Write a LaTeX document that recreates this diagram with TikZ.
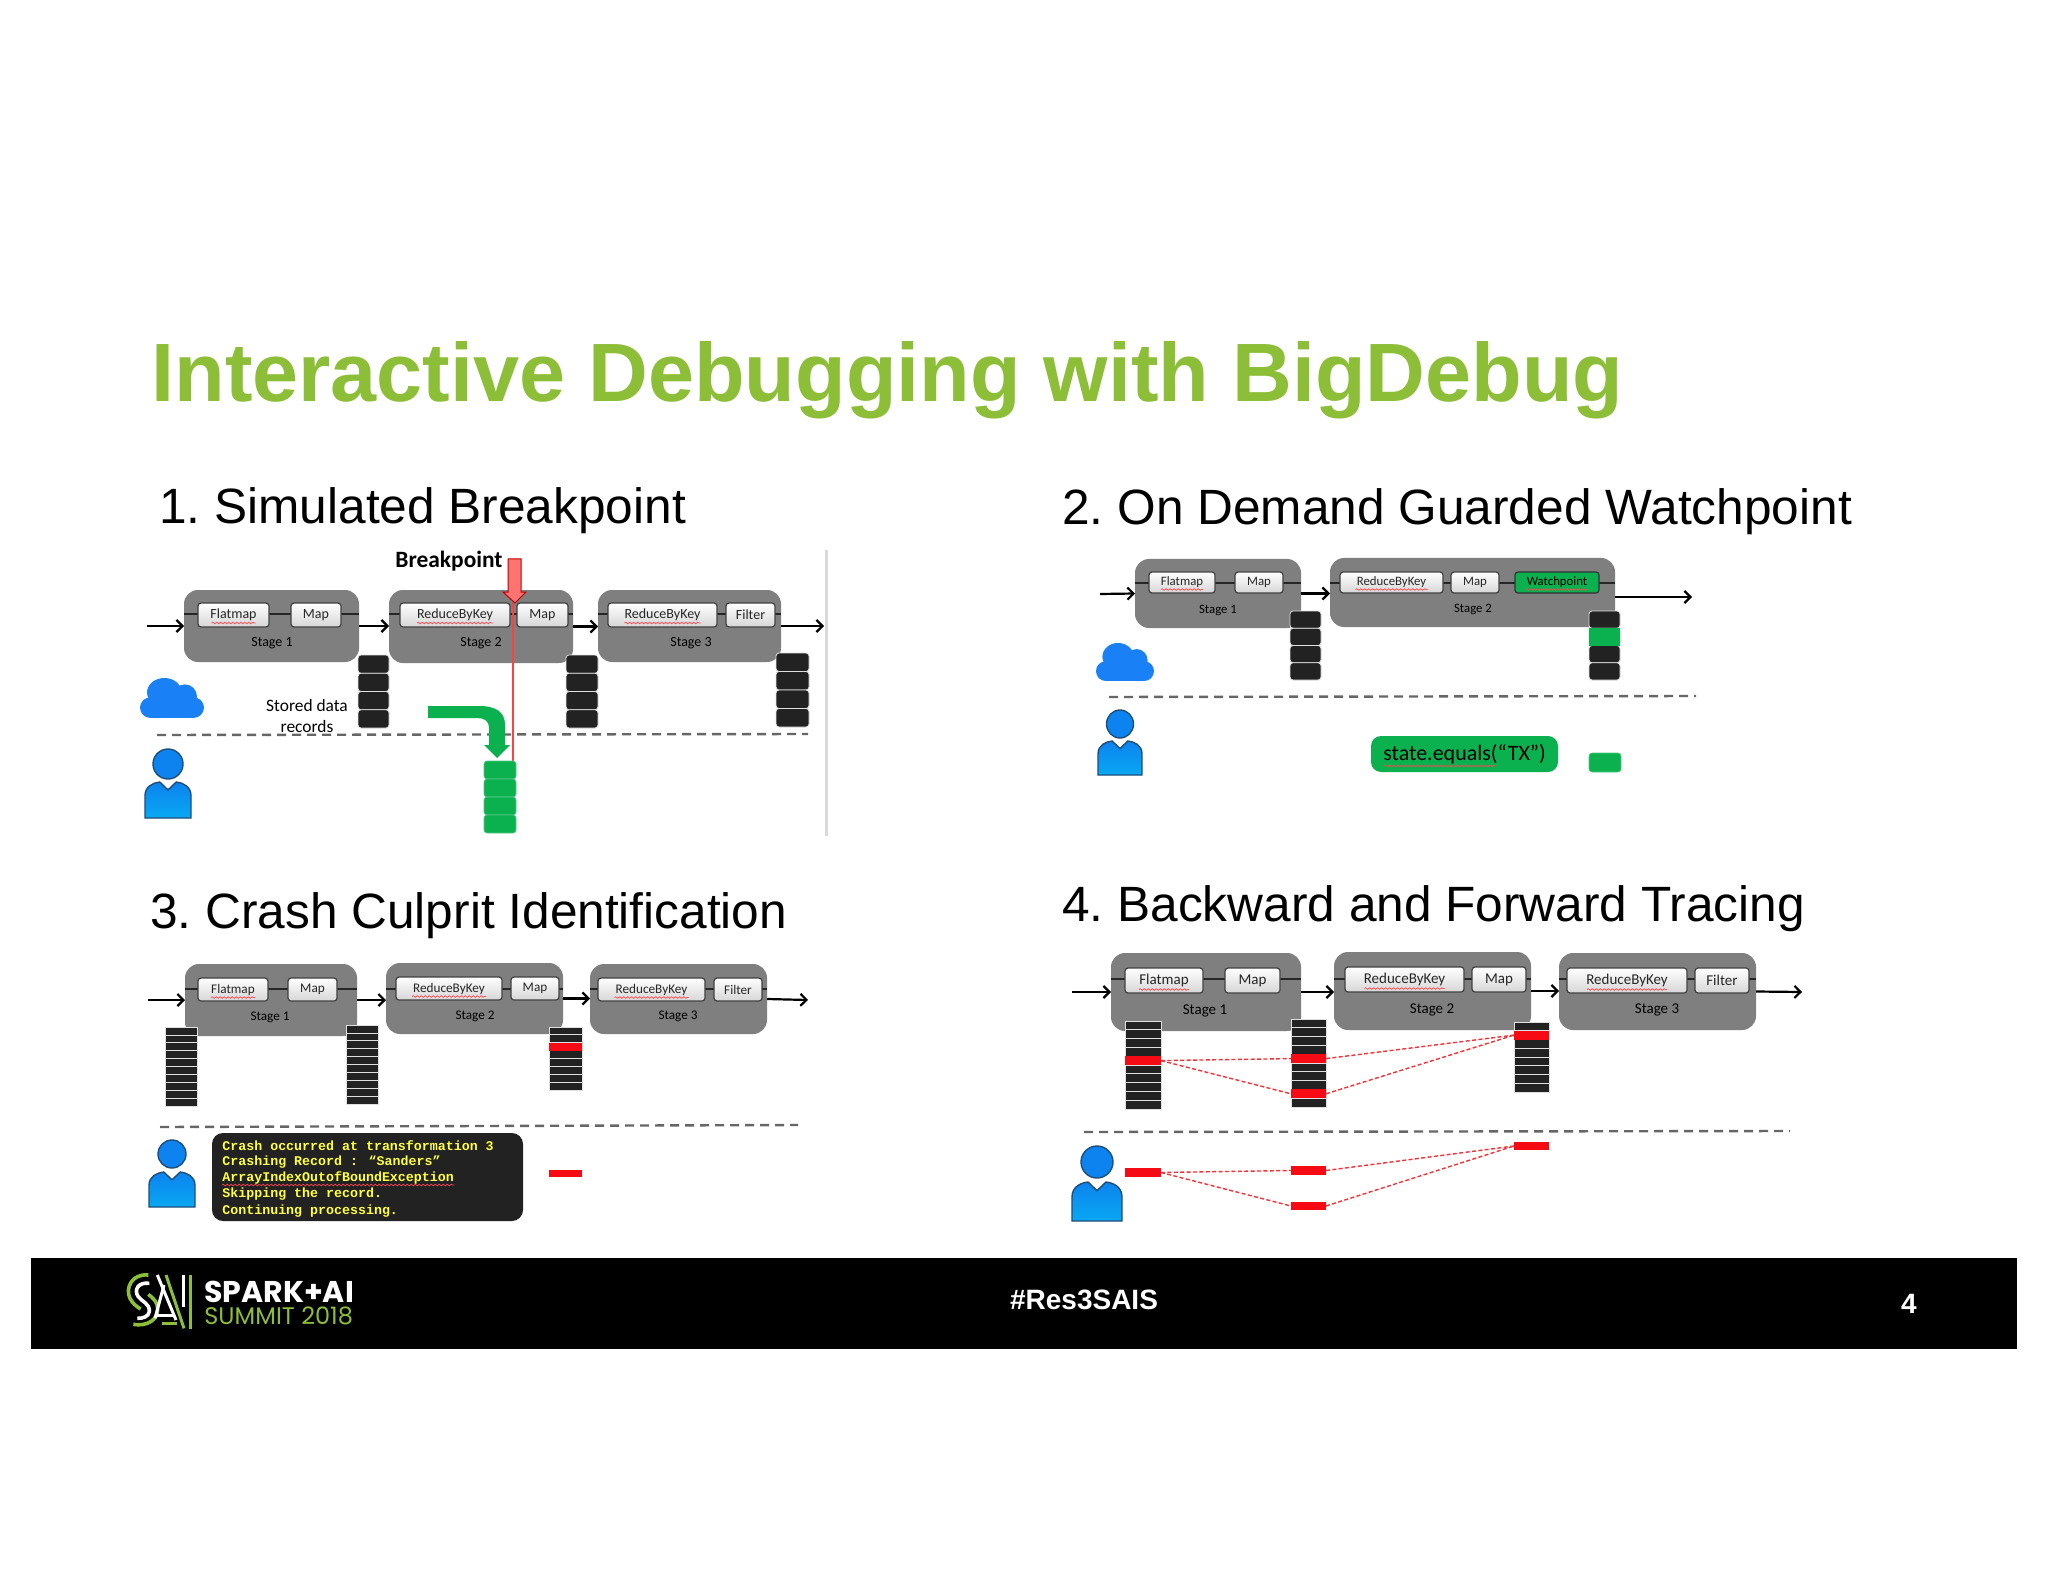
\documentclass[tikz,border=0pt]{standalone}
\usepackage{fontspec}
\usepackage{graphicx}
\setmainfont{Liberation Sans}
\newfontfamily\car{Carlito}
\newfontfamily\mono{Liberation Mono}
\newfontfamily\pop{Poppins}
\usetikzlibrary{arrows.meta,calc,decorations.pathmorphing,shapes.geometric}
\definecolor{sparkgreen}{HTML}{8DBE38}
\definecolor{stagegrey}{HTML}{7F7F7F}
\definecolor{recdark}{HTML}{222222}
\definecolor{recgreen}{HTML}{0BB04F}
\definecolor{markred}{HTML}{F60A14}
\definecolor{pblue}{HTML}{0C83EE}
\definecolor{cloudblue}{HTML}{1A80F5}
\definecolor{pedge}{HTML}{1F4E79}
\definecolor{conyellow}{HTML}{FFFF3C}
\tikzset{
  pagebg/.style={fill=white},
  titletext/.style={anchor=base west,inner sep=0pt,text=sparkgreen,font=\fontsize{41.4}{48}\selectfont\bfseries},
  headtext/.style={anchor=base west,inner sep=0pt,text=black,font=\frenchspacing\fontsize{24.8}{30}\selectfont},
  stagebox/.style={fill=stagegrey,rounded corners=7pt,inner sep=0pt,outer sep=0pt,text=black},
  opbox/.style={draw=black!75,line width=.6pt,top color=white,bottom color=black!16,rounded corners=1.5pt,inner sep=0pt,outer sep=0pt,text=black!85},
  watchbox/.style={draw=black!80,line width=.6pt,fill=recgreen,rounded corners=1.5pt,inner sep=0pt,outer sep=0pt,text=black},
  recr/.style={fill=recdark,draw=black!12,line width=.4pt,rounded corners=1.5pt,inner sep=0pt,outer sep=0pt},
  recs/.style={fill=recdark,draw=black!12,line width=.4pt,inner sep=0pt,outer sep=0pt},
  recg/.style={fill=recgreen,draw=recgreen!70!white,line width=.3pt,rounded corners=1.5pt,inner sep=0pt,outer sep=0pt},
  redbar/.style={fill=markred,inner sep=0pt,outer sep=0pt},
  wire/.style={draw=black!85,line width=.7pt},
  flow/.style={draw=black,line width=1.1pt,-{Straight Barb[length=3pt,width=6pt,line width=1.1pt]}},
  sep/.style={draw=black!60,line width=1.2pt,dash pattern=on 4.5pt off 3pt},
  trace/.style={draw=markred!85,line width=.7pt,dash pattern=on 2pt off 1.2pt},
  squig/.style={draw=markred!75,line width=.35pt,decorate,decoration={snake,segment length=2pt,amplitude=.4pt}},
  lbl/.style={inner sep=0pt,text=black},
  headshape/.style={draw=pedge,line width=.7pt,fill=pblue},
  bodyshape/.style={draw=pedge,line width=.7pt,top color=pblue,bottom color=pblue!70!cyan},
  logog/.style={draw=sparkgreen,line width=1.5pt},
  logow/.style={draw=white,line width=1.5pt},
}
\newcommand\bx[7][]{%
  \pgfmathsetmacro\cxv{(#3+#5)/2}%
  \pgfmathsetmacro\cyv{(#4+#6)/2}%
  \node[#1,minimum width={(#5-#3)*0.5pt},minimum height={(#6-#4)*0.5pt}] (#2) at (\cxv,\cyv) {#7};}
\newcommand\stack[7]{%
  \foreach \i in {1,...,#7}{%
    \pgfmathsetmacro\ya{#5+(\i-1)*(#6-#5)/#7}%
    \pgfmathsetmacro\yb{#5+\i*(#6-#5)/#7}%
    \bx[#1]{#2-\i}{#3}{\ya}{#4}{\yb}{}%
  }}
\newcommand\recmark[2]{\fill[#2] (#1.south west) rectangle (#1.north east);}
\newcommand\squigon[3]{\draw[squig] ($(#1.center)+(-#2,#3)$) -- ($(#1.center)+(#2,#3)$);}
\newcommand\person[9]{%
  \begin{scope}[shift={(#6,#8)},xscale={(#7-#6)/100},yscale={(#9-#8)/100}]
    \path[bodyshape] (0,100) -- (0,38) .. controls (0,12) and (18,2) .. (32,0) -- (50,22) -- (68,0) .. controls (82,2) and (100,12) .. (100,38) -- (100,100) -- cycle;
  \end{scope}
  \node[headshape,ellipse,inner sep=0pt,minimum width={#4*1pt},minimum height={#5*1pt}] (#1) at (#2,#3) {};}
\newcommand\cloud[4]{%
  \begin{scope}[shift={(#1,#3)},xscale={(#2-#1)/100},yscale={(#4-#3)/100}]
    \fill[cloudblue] (17,74) ellipse [x radius=17,y radius=26];
    \fill[cloudblue] (38,36) ellipse [x radius=27,y radius=36];
    \fill[cloudblue] (70,46) ellipse [x radius=19,y radius=30];
    \fill[cloudblue] (83,74) ellipse [x radius=17,y radius=26];
    \fill[cloudblue] (17,42) rectangle (83,100);
  \end{scope}}
\begin{document}
\begin{tikzpicture}[x=0.5pt,y=-0.5pt]
\useasboundingbox[pagebg] (0,0) rectangle (2048,1582);
\node[titletext] (title) at (151,402) {Interactive Debugging with BigDebug};
\node[headtext] (h1) at (159,524) {1. Simulated Breakpoint};
\node[headtext] (h2) at (1062,525) {2. On Demand Guarded Watchpoint};
\node[headtext] (h3) at (150,928) {3. Crash Culprit Identification};
\node[headtext] (h4) at (1062,921) {4. Backward and Forward Tracing};

%%% Panel 1
\def\opf{\car\fontsize{7}{8}\selectfont}
\draw[draw=black!15,line width=1.5pt] (826,550) -- (826,836);
\bx[stagebox]{a1}{184}{590}{359}{662}{}
\bx[stagebox]{a2}{389}{590}{573}{663}{}
\bx[stagebox]{a3}{598}{590}{781}{662}{}
\coordinate (ay) at (0,614);
\draw[wire] (a1.west |- ay) -- (a1.east |- ay);
\draw[wire] (a2.west |- ay) -- (a2.east |- ay);
\draw[wire] (a3.west |- ay) -- (a3.east |- ay);
\bx[opbox,font=\opf]{af}{198}{603}{269}{627}{Flatmap}
\bx[opbox,font=\opf]{am}{291}{603}{341}{627}{Map}
\bx[opbox,font=\opf]{ar}{400}{603}{510}{627}{ReduceByKey}
\bx[opbox,font=\opf]{an}{517}{603}{568}{627}{Map}
\bx[opbox,font=\opf]{as}{608}{603}{717}{627}{ReduceByKey}
\bx[opbox,font=\opf]{at}{726}{603}{775}{627}{Filter}
\squigon{af}{22}{8}\squigon{ar}{38}{8}\squigon{as}{38}{8}
\node[lbl,font=\opf] (al1) at (272,643) {Stage 1};
\node[lbl,font=\opf] (al2) at (481,643) {Stage 2};
\node[lbl,font=\opf] (al3) at (691,643) {Stage 3};
\coordinate (ain) at (147,626); \coordinate (aout) at (824,626);
\draw[flow] (ain) -- (a1.west);
\draw[flow] (a1.east) -- (a1.east -| a2.west);
\draw[flow] (a2.east) -- (a2.east -| a3.west);
\draw[flow] (a3.east) -- (aout);
\stack{recr}{ar1}{358}{389}{655}{728}{4}
\stack{recr}{ar2}{566}{598}{655}{728}{4}
\stack{recr}{ar3}{776}{809}{653}{727}{4}
\cloud{140}{204}{678}{718}
\node[lbl,font=\car\fontsize{8.7}{10}\selectfont] (astored) at (307,706) {Stored data};
\node[lbl,font=\car\fontsize{8.7}{10}\selectfont] (arecords) at (307,727) {records};
\coordinate (as1) at (157,735); \coordinate (as2) at (808,734);
\draw[sep] (as1) -- (as2);
\person{ap}{168}{764}{15}{15}{145}{191}{782}{818}
\node[lbl,font=\car\fontsize{11.7}{13}\selectfont\bfseries] (abp) at (449,561) {Breakpoint};
\coordinate (abt) at (513,603); \coordinate (abb) at (513,761);
\draw[draw=red!75!white,line width=.7pt] (abt) -- (abb);
\stack{recg}{ag}{484}{516}{761}{833}{4}
\fill[recgreen] (428,706) -- (479,706) .. controls (496,706) and (505,712) .. (505,725) -- (505,745) -- (510,745) -- (497,758) -- (484,745) -- (489,745) -- (489,727) .. controls (489,721) and (484,718) .. (477,718) -- (428,718) -- cycle;
\path[fill=red!55!white,draw=red!75!black,line width=.5pt] (508,559) -- (521,559) -- (521,592) -- (526,592) -- (515,603) -- (503,592) -- (508,592) -- cycle;

%%% Panel 2
\def\opf{\car\fontsize{6.4}{8}\selectfont}
\bx[stagebox]{b1}{1135}{559}{1301}{628}{}
\bx[stagebox]{b2}{1330}{558}{1615}{627}{}
\coordinate (by) at (0,583);
\draw[wire] (b1.west |- by) -- (b1.east |- by);
\draw[wire] (b2.west |- by) -- (b2.east |- by);
\bx[opbox,font=\opf]{bf}{1149}{572}{1215}{593}{Flatmap}
\bx[opbox,font=\opf]{bm}{1235}{572}{1283}{593}{Map}
\bx[opbox,font=\opf]{br}{1340}{572}{1443}{593}{ReduceByKey}
\bx[opbox,font=\opf]{bn}{1451}{572}{1499}{593}{Map}
\bx[watchbox,font=\opf]{bw}{1515}{572}{1599}{593}{Watchpoint}
\squigon{bf}{21}{7}\squigon{br}{36}{7}\squigon{bw}{31}{7}
\node[lbl,font=\opf] (bl1) at (1218,610) {Stage 1};
\node[lbl,font=\opf] (bl2) at (1473,609) {Stage 2};
\coordinate (bin) at (1100,594); \coordinate (bout) at (1692,597);
\draw[flow] (bin) -- (b1.west);
\draw[flow] (b1.east) -- (b1.east -| b2.west);
\draw[flow] (b2.east |- bout) -- (bout);
\stack{recr}{br1}{1290}{1321}{611}{680}{4}
\stack{recr}{br2}{1589}{1620}{611}{680}{4}
\recmark{br2-2}{recgreen}
\cloud{1096}{1154}{643}{681}
\coordinate (bs1) at (1109,697); \coordinate (bs2) at (1696,696);
\draw[sep] (bs1) -- (bs2);
\person{bp}{1120}{724}{13.5}{14}{1098}{1142}{741}{775}
\node[fill=recgreen,rounded corners=5pt,minimum width=93.5pt,minimum height=18pt,inner sep=0pt,font=\car\fontsize{11}{13}\selectfont] (bpill) at (1464.5,754) {\raisebox{-1pt}{state.equals(“TX”)}};
\draw[squig] ($(bpill.center)+(-80,12)$) -- ($(bpill.center)+(32,12)$);
\bx[recg]{bg}{1589}{753}{1621}{772}{}

%%% Panel 3
\def\opf{\car\fontsize{6.6}{8}\selectfont}
\bx[stagebox]{c1}{185}{964}{357}{1036}{}
\bx[stagebox]{c2}{386}{963}{563}{1034}{}
\bx[stagebox]{c3}{590}{964}{767}{1034}{}
\coordinate (cy) at (0,989);
\draw[wire] (c1.west |- cy) -- (c1.east |- cy);
\draw[wire] (c2.west |- cy) -- (c2.east |- cy);
\draw[wire] (c3.west |- cy) -- (c3.east |- cy);
\bx[opbox,font=\opf]{cf}{198}{978}{268}{1001}{Flatmap}
\bx[opbox,font=\opf]{cm}{288}{978}{337}{1001}{Map}
\bx[opbox,font=\opf]{cr}{396}{977}{502}{1000}{ReduceByKey}
\bx[opbox,font=\opf]{cn}{511}{977}{559}{1000}{Map}
\bx[opbox,font=\opf]{cs}{598}{978}{705}{1001}{ReduceByKey}
\bx[opbox,font=\opf]{ct}{714}{978}{762}{1001}{Filter}
\squigon{cf}{22}{8}\squigon{cr}{37}{8}\squigon{cs}{37}{8}
\node[lbl,font=\opf] (cl1) at (270,1017) {Stage 1};
\node[lbl,font=\opf] (cl2) at (475,1016) {Stage 2};
\node[lbl,font=\opf] (cl3) at (678,1016) {Stage 3};
\coordinate (cin) at (148,1000); \coordinate (cout) at (808,1000);
\draw[flow] (cin) -- (c1.west);
\draw[flow] (c1.east) -- (c1.east -| c2.west);
\draw[flow] (c2.east) -- (c2.east -| c3.west);
\draw[flow] (c3.east) -- (cout);
\stack{recs}{cr1}{165}{197}{1027}{1106}{10}
\stack{recs}{cr2}{346}{378}{1025}{1104}{10}
\stack{recs}{cr3}{549}{582}{1027}{1090}{8}
\recmark{cr3-3}{markred}
\coordinate (cs1) at (160,1127); \coordinate (cs2) at (798,1125);
\draw[sep] (cs1) -- (cs2);
\person{cp}{172}{1154}{14}{14}{149}{195}{1172}{1207}
\bx[fill=recdark,rounded corners=5.5pt,inner sep=0pt]{cc}{212}{1133}{523}{1221}{}
\def\conf{\mono\fontsize{6.65}{8}\selectfont\bfseries}
\node[anchor=west,inner sep=0pt,text=conyellow,font=\conf] (cc1) at (222,1146) {Crash occurred at transformation 3};
\node[anchor=west,inner sep=0pt,text=conyellow,font=\conf] (cc2) at (222,1162) {Crashing Record : “Sanders”};
\node[anchor=west,inner sep=0pt,text=conyellow,font=\conf] (cc3) at (222,1178) {ArrayIndexOutofBoundException};
\node[anchor=west,inner sep=0pt,text=conyellow,font=\conf] (cc4) at (222,1194) {Skipping the record.};
\node[anchor=west,inner sep=0pt,text=conyellow,font=\conf] (cc5) at (222,1211) {Continuing processing.};
\draw[squig] ($(cc3.west)+(0,7)$) -- ($(cc3.east)+(0,7)$);
\bx[redbar]{cb}{549}{1170}{582}{1177}{}

%%% Panel 4
\def\opf{\car\fontsize{7.5}{9}\selectfont}
\bx[stagebox]{d1}{1111}{953}{1301}{1031}{}
\bx[stagebox]{d2}{1334}{952}{1531}{1030}{}
\bx[stagebox]{d3}{1559}{953}{1756}{1030}{}
\coordinate (dy) at (0,979);
\draw[wire] (d1.west |- dy) -- (d1.east |- dy);
\draw[wire] (d2.west |- dy) -- (d2.east |- dy);
\draw[wire] (d3.west |- dy) -- (d3.east |- dy);
\bx[opbox,font=\opf]{df}{1125}{968}{1203}{993}{Flatmap}
\bx[opbox,font=\opf]{dm}{1225}{968}{1280}{993}{Map}
\bx[opbox,font=\opf]{dr}{1345}{967}{1464}{992}{ReduceByKey}
\bx[opbox,font=\opf]{dn}{1472}{967}{1526}{992}{Map}
\bx[opbox,font=\opf]{ds}{1567}{968}{1687}{993}{ReduceByKey}
\bx[opbox,font=\opf]{dt}{1695}{968}{1749}{993}{Filter}
\squigon{df}{25}{9}\squigon{dr}{40}{9}\squigon{ds}{40}{9}
\node[lbl,font=\opf] (dl1) at (1205,1011) {Stage 1};
\node[lbl,font=\opf] (dl2) at (1432,1010) {Stage 2};
\node[lbl,font=\opf] (dl3) at (1657,1010) {Stage 3};
\coordinate (din) at (1072,992); \coordinate (dout) at (1802,992);
\draw[flow] (din) -- (d1.west);
\draw[flow] (d1.east) -- (d1.east -| d2.west);
\draw[flow] (d2.east) -- (d2.east -| d3.west);
\draw[flow] (d3.east) -- (dout);
\stack{recs}{dr1}{1125}{1161}{1021}{1109}{10}
\stack{recs}{dr2}{1291}{1326}{1019}{1107}{10}
\stack{recs}{dr3}{1514}{1549}{1022}{1092}{8}
\recmark{dr1-5}{markred}
\recmark{dr2-5}{markred}
\recmark{dr2-9}{markred}
\recmark{dr3-2}{markred}
\draw[trace] (dr1-5.east) -- (dr2-5.west);
\draw[trace] (dr1-5.east) -- (dr2-9.west);
\draw[trace] (dr2-5.east) -- (dr3-2.west);
\draw[trace] (dr2-9.east) -- (dr3-2.west);
\coordinate (ds1) at (1084,1132); \coordinate (ds2) at (1790,1131);
\draw[sep] (ds1) -- (ds2);
\person{dp}{1097}{1162}{16}{16}{1072}{1122}{1182}{1221}
\bx[redbar]{dk1}{1125}{1168}{1161}{1177}{}
\bx[redbar]{dk2}{1291}{1166}{1326}{1175}{}
\bx[redbar]{dk3}{1291}{1202}{1326}{1210}{}
\bx[redbar]{dk4}{1514}{1142}{1549}{1150}{}
\draw[trace] (dk1.east) -- (dk2.west);
\draw[trace] (dk1.east) -- (dk3.west);
\draw[trace] (dk2.east) -- (dk4.west);
\draw[trace] (dk3.east) -- (dk4.west);

%%% Footer
\bx[fill=black,inner sep=0pt]{foot}{31}{1258}{2017}{1349}{}
\node[inner sep=0pt,text=white,font=\fontsize{14}{16}\selectfont\bfseries] (ftag) at (1084,1299.5) {\#Res3SAIS};
\node[inner sep=0pt,text=white,font=\fontsize{14}{16}\selectfont\bfseries] (fnum) at (1909,1304) {4};
\node[anchor=base west,inner sep=0pt,text=white,font=\pop\fontsize{15}{17}\selectfont\bfseries] (fspark) at (204,1302) {SPARK+AI};
\node[anchor=base west,inner sep=0pt,text=sparkgreen,font=\pop\fontsize{12}{14}\selectfont] (fsummit) at (204,1324) {SUMMIT 2018};
\begin{scope}[shift={(120,1265)},x=0.1667pt,y=-0.1667pt]
  \draw[logog,line width=1.8pt] (85,30) .. controls (35,25) and (15,70) .. (30,100) .. controls (37,115) and (50,125) .. (62,132);
  \draw[logow,line width=1.8pt] (88,55) .. controls (55,50) and (40,75) .. (55,95) .. controls (65,110) and (90,115) .. (88,140) .. controls (85,155) and (70,160) .. (52,160);
  \draw[logog,line width=1.8pt] (40,178) .. controls (80,185) and (115,165) .. (113,130) .. controls (112,110) and (100,100) .. (85,88);
  \draw[logow] (112,30) -- (168,165);
  \draw[logow] (132,60) -- (105,160);
  \draw[logow] (108,152) -- (165,152);
  \draw[logog] (138,30) -- (192,190);
  \draw[logog] (125,175) -- (172,175);
  \draw[logow] (190,30) -- (190,125);
  \draw[logog] (212,30) -- (212,192);
\end{scope}
\end{tikzpicture}
\end{document}
